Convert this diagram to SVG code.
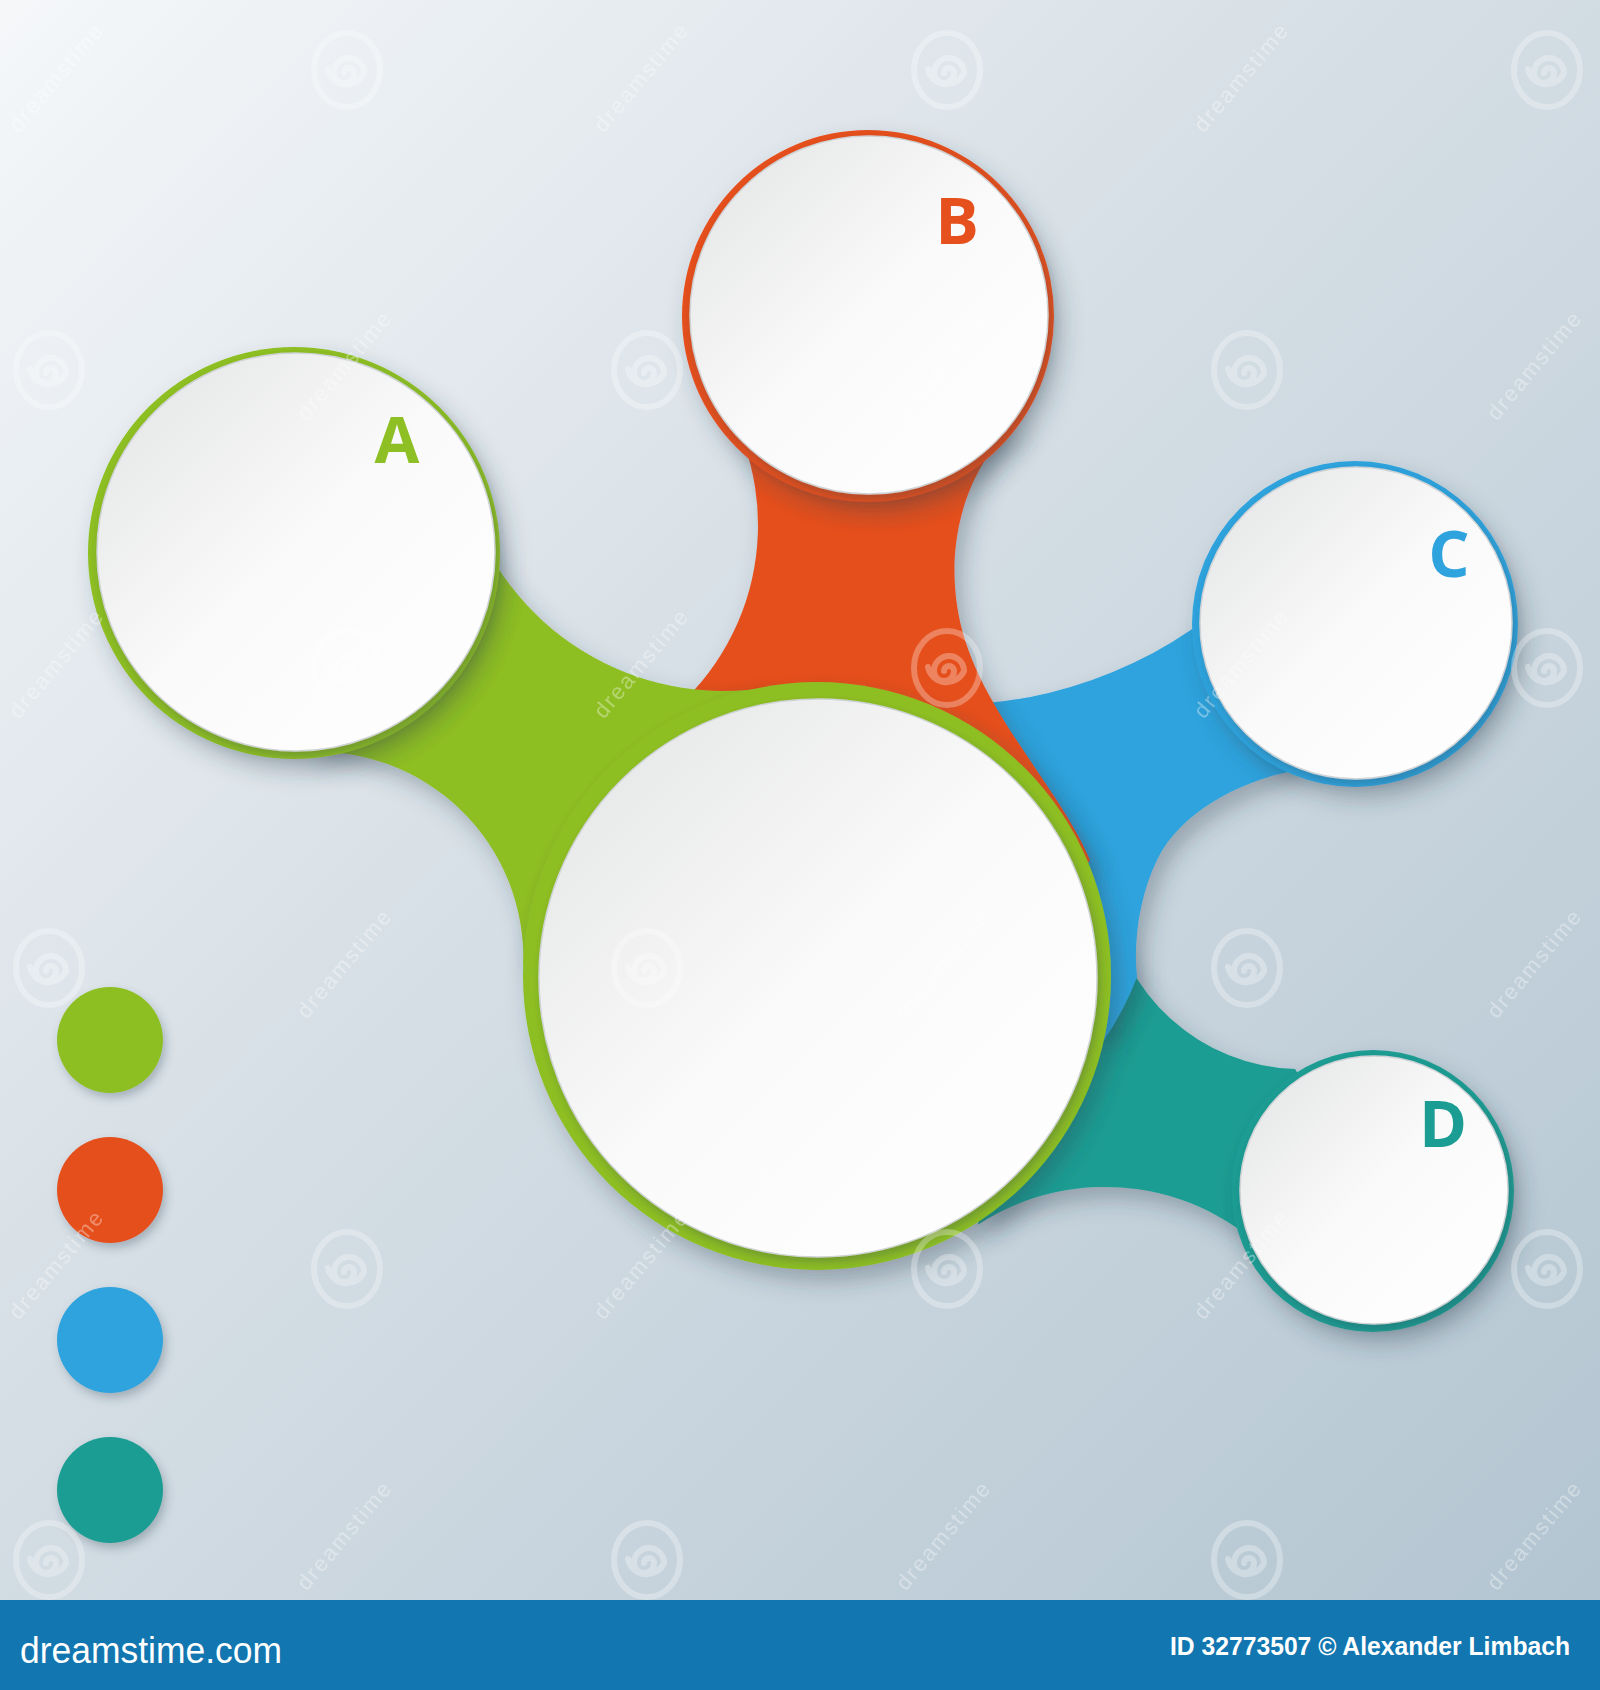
<svg xmlns="http://www.w3.org/2000/svg" xmlns:xlink="http://www.w3.org/1999/xlink" width="1600" height="1690" viewBox="0 0 1600 1690">
<defs>
  <linearGradient id="bg" x1="0" y1="0" x2="1600" y2="1600" gradientUnits="userSpaceOnUse">
    <stop offset="0" stop-color="#f5f7f9"/>
    <stop offset="0.45" stop-color="#d5dee5"/>
    <stop offset="1" stop-color="#b3c5d1"/>
  </linearGradient>
  <linearGradient id="disc" x1="0" y1="0" x2="1" y2="1">
    <stop offset="0" stop-color="#e2e3e4"/>
    <stop offset="0.5" stop-color="#fafafa"/>
    <stop offset="1" stop-color="#ffffff"/>
  </linearGradient>
  <filter id="sh" x="-30%" y="-30%" width="170%" height="170%">
    <feDropShadow dx="8" dy="12" stdDeviation="11" flood-color="#2e3f4e" flood-opacity="0.32"/>
  </filter>
  <filter id="sh2" x="-20%" y="-20%" width="150%" height="150%">
    <feDropShadow dx="3" dy="5" stdDeviation="5" flood-color="#2e3f4e" flood-opacity="0.3"/>
  </filter>
  <symbol id="sp" overflow="visible">
    <g fill="none" stroke="#ffffff" stroke-width="6" stroke-linecap="round">
      <ellipse cx="0" cy="0" rx="33" ry="37"/>
      <path d="M -3 3 a 5 5 0 0 1 10 0 a 10 10 0 0 1 -20 0 a 15 15 0 0 1 30 0 a 19 19 0 0 1 -36 -4"/>
    </g>
  </symbol>
  <style>
    .ring-a{fill:#8ebf24}
    .ring-b{fill:#e5501d}
    .ring-c{fill:#2fa3dd}
    .ring-d{fill:#1c9d93}
    .white{fill:url(#disc);stroke:#cfd3d6;stroke-width:1.5}
    .letter{font-family:"Open Sans","Liberation Sans",sans-serif;font-weight:700;font-size:65px;text-anchor:middle}
    .wmt{font-family:"Liberation Sans","DejaVu Sans",sans-serif;font-size:22px;fill:#ffffff;opacity:0.35;letter-spacing:2px;text-anchor:middle}
    .foot{font-family:"Liberation Sans","DejaVu Sans",sans-serif;fill:#ffffff}
  </style>
</defs>

<rect id="background" x="0" y="0" width="1600" height="1600" fill="url(#bg)"/>

<g id="connectors">
  <path id="neck-d" class="ring-d" filter="url(#sh)" d="M 1000 950 L 1108.6 900 A 194 194 0 0 0 1295 1069 L 1373 1191 L 1282.2 1268.6 A 233 233 0 0 0 978.2 1224.5 Z"/>
  <path id="neck-c" class="ring-c" filter="url(#sh)" d="M 960 704.8 A 430 430 0 0 0 1274.4 554.9 L 1330 700 L 1288 772 C 1240 782 1180 812 1157 860 C 1140 895 1133 940 1137 977 A 300 300 0 0 1 1104 1040 L 900 900 Z"/>
  <path id="neck-b" class="ring-b" filter="url(#sh)" d="M 724.1 400.7 A 245 245 0 0 1 650 728.2 L 1060 900 L 1090 860 C 1060 790 990 720 965 640 C 940 560 960 470 1020 420 Z"/>
  <path id="neck-a" class="ring-a" filter="url(#sh)" d="M 466.6 500.4 A 269 269 0 0 0 768.5 687.3 L 523.2 965.5 A 206 206 0 0 0 304.3 752.2 Z"/>
</g>

<g id="node-d">
  <circle class="ring-d" cx="1373" cy="1191" r="141" filter="url(#sh)"/>
  <circle class="white" cx="1374" cy="1190" r="134" filter="url(#sh2)"/>
  <text class="letter" x="1443" y="1147" fill="#1c9d93">D</text>
</g>
<g id="node-c">
  <circle class="ring-c" cx="1355" cy="624" r="163" filter="url(#sh)"/>
  <circle class="white" cx="1356" cy="623" r="156" filter="url(#sh2)"/>
  <text class="letter" x="1449" y="577" fill="#2fa3dd">C</text>
</g>
<g id="node-b">
  <circle class="ring-b" cx="868" cy="316" r="186" filter="url(#sh)"/>
  <circle class="white" cx="869" cy="315" r="179" filter="url(#sh2)"/>
  <text class="letter" x="957" y="244" fill="#e5501d">B</text>
</g>
<g id="node-a">
  <circle class="ring-a" cx="294" cy="553" r="206" filter="url(#sh)"/>
  <circle class="white" cx="296" cy="552" r="199" filter="url(#sh2)"/>
  <text class="letter" x="397" y="463" fill="#8ebf24">A</text>
</g>
<g id="node-main">
  <circle class="ring-a" cx="817" cy="976" r="294" filter="url(#sh)"/>
  <circle class="white" cx="818" cy="978" r="279" filter="url(#sh2)"/>
</g>

<g id="legend">
  <circle class="ring-a" cx="110" cy="1040" r="53" filter="url(#sh2)"/>
  <circle class="ring-b" cx="110" cy="1190" r="53" filter="url(#sh2)"/>
  <circle class="ring-c" cx="110" cy="1340" r="53" filter="url(#sh2)"/>
  <circle class="ring-d" cx="110" cy="1490" r="53" filter="url(#sh2)"/>
</g>

<g id="watermark" opacity="0.3">
  <use xlink:href="#sp" x="347" y="70"/><use xlink:href="#sp" x="947" y="70"/><use xlink:href="#sp" x="1547" y="70"/>
  <use xlink:href="#sp" x="49" y="370"/><use xlink:href="#sp" x="647" y="370"/><use xlink:href="#sp" x="1247" y="370"/>
  <use xlink:href="#sp" x="347" y="668"/><use xlink:href="#sp" x="947" y="668"/><use xlink:href="#sp" x="1547" y="668"/>
  <use xlink:href="#sp" x="49" y="968"/><use xlink:href="#sp" x="647" y="968"/><use xlink:href="#sp" x="1247" y="968"/>
  <use xlink:href="#sp" x="347" y="1269"/><use xlink:href="#sp" x="947" y="1269"/><use xlink:href="#sp" x="1547" y="1269"/>
  <use xlink:href="#sp" x="49" y="1560"/><use xlink:href="#sp" x="647" y="1560"/><use xlink:href="#sp" x="1247" y="1560"/>
</g>
<g id="watermark-text">
  <text class="wmt" transform="translate(62 82) rotate(-50)">dreamstime</text>
  <text class="wmt" transform="translate(647 82) rotate(-50)">dreamstime</text>
  <text class="wmt" transform="translate(1247 82) rotate(-50)">dreamstime</text>
  <text class="wmt" transform="translate(350 370) rotate(-50)">dreamstime</text>
  <text class="wmt" transform="translate(949 370) rotate(-50)">dreamstime</text>
  <text class="wmt" transform="translate(1540 370) rotate(-50)">dreamstime</text>
  <text class="wmt" transform="translate(62 668) rotate(-50)">dreamstime</text>
  <text class="wmt" transform="translate(647 668) rotate(-50)">dreamstime</text>
  <text class="wmt" transform="translate(1247 668) rotate(-50)">dreamstime</text>
  <text class="wmt" transform="translate(350 968) rotate(-50)">dreamstime</text>
  <text class="wmt" transform="translate(949 968) rotate(-50)">dreamstime</text>
  <text class="wmt" transform="translate(1540 968) rotate(-50)">dreamstime</text>
  <text class="wmt" transform="translate(62 1269) rotate(-50)">dreamstime</text>
  <text class="wmt" transform="translate(647 1269) rotate(-50)">dreamstime</text>
  <text class="wmt" transform="translate(1247 1269) rotate(-50)">dreamstime</text>
  <text class="wmt" transform="translate(350 1540) rotate(-50)">dreamstime</text>
  <text class="wmt" transform="translate(949 1540) rotate(-50)">dreamstime</text>
  <text class="wmt" transform="translate(1540 1540) rotate(-50)">dreamstime</text>
</g>

<g id="footer">
  <rect x="0" y="1600" width="1600" height="90" fill="#1276b0"/>
  <text class="foot" x="20" y="1663" font-size="36" textLength="262" lengthAdjust="spacingAndGlyphs">dreamstime.com</text>
  <text class="foot" x="1170" y="1655" font-size="26" font-weight="700" textLength="400" lengthAdjust="spacingAndGlyphs">ID 32773507 © Alexander Limbach</text>
</g>
</svg>
